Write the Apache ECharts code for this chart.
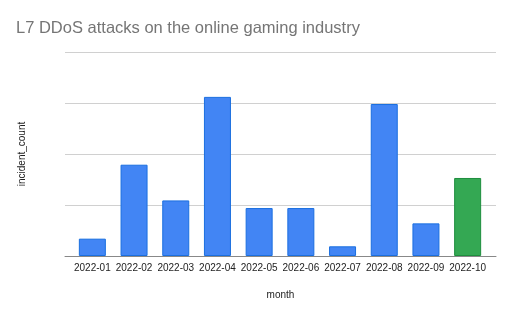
<!DOCTYPE html>
<html>
<head>
<meta charset="utf-8">
<script src="https://cdn.jsdelivr.net/npm/echarts@6/dist/echarts.min.js"></script>
<style>
  html, body { margin: 0; padding: 0; background: #fff; }
  #chart { width: 512px; height: 317px; }
</style>
</head>
<body>
<div id="chart"></div>
<script>
// data (gridline step = 1 unit, no tick labels shown)
const months = ['2022-01', '2022-02', '2022-03', '2022-04', '2022-05',
                '2022-06', '2022-07', '2022-08', '2022-09', '2022-10'];
const incidentCount = [0.34, 1.79, 1.09, 3.12, 0.94, 0.94, 0.19, 2.98, 0.64, 1.53];
const highlightMonth = '2022-10';

const chart = echarts.init(document.getElementById('chart'));

const barData = months.map((m, i) => {
  if (m === highlightMonth) {
    return { value: incidentCount[i], itemStyle: { color: '#34a853', borderColor: '#1e8e3e' } };
  }
  return incidentCount[i];
});

const font = 'Liberation Sans';

chart.setOption({
  animation: false,
  title: {
    text: 'L7 DDoS attacks on the online gaming industry',
    left: 11,
    top: 15,
    textStyle: { fontFamily: font, fontSize: 16.5, fontWeight: 'normal', color: '#757575' }
  },
  // grid 0 carries the gridlines + baseline, grid 1 the bars (slightly inset like the original)
  grid: [
    { left: 65, right: 16, top: 52, bottom: 61 },
    { left: 71.5, right: 23.5, top: 52, bottom: 61 }
  ],
  xAxis: [
    {
      gridIndex: 0,
      type: 'value',
      min: 0,
      max: 1,
      axisLine: { show: true, onZero: false, lineStyle: { color: '#888' } },
      axisTick: { show: false },
      axisLabel: { show: false },
      splitLine: { show: false },
      name: 'month',
      nameLocation: 'middle',
      nameGap: 34,
      nameTextStyle: { fontFamily: font, fontSize: 10, color: '#222' }
    },
    {
      gridIndex: 1,
      type: 'category',
      data: months,
      axisLine: { show: false },
      axisTick: { show: false },
      axisLabel: { fontFamily: font, fontSize: 10, color: '#222', margin: 7, interval: 0 }
    }
  ],
  yAxis: [
    {
      gridIndex: 0,
      type: 'value',
      min: 0,
      max: 4,
      interval: 1,
      name: 'incident_count',
      nameLocation: 'middle',
      nameGap: 38,
      nameTextStyle: { fontFamily: font, fontSize: 10, color: '#222' },
      axisLine: { show: false },
      axisTick: { show: false },
      axisLabel: { show: false },
      splitLine: { lineStyle: { color: '#d0d0d0' } }
    },
    {
      gridIndex: 1,
      type: 'value',
      min: 0,
      max: 4,
      interval: 1,
      show: false
    }
  ],
  series: [{
    type: 'bar',
    xAxisIndex: 1,
    yAxisIndex: 1,
    data: barData,
    barWidth: 27,
    itemStyle: { color: '#4285f4', borderColor: '#1a6fe0', borderWidth: 1 }
  }]
});
</script>
</body>
</html>
